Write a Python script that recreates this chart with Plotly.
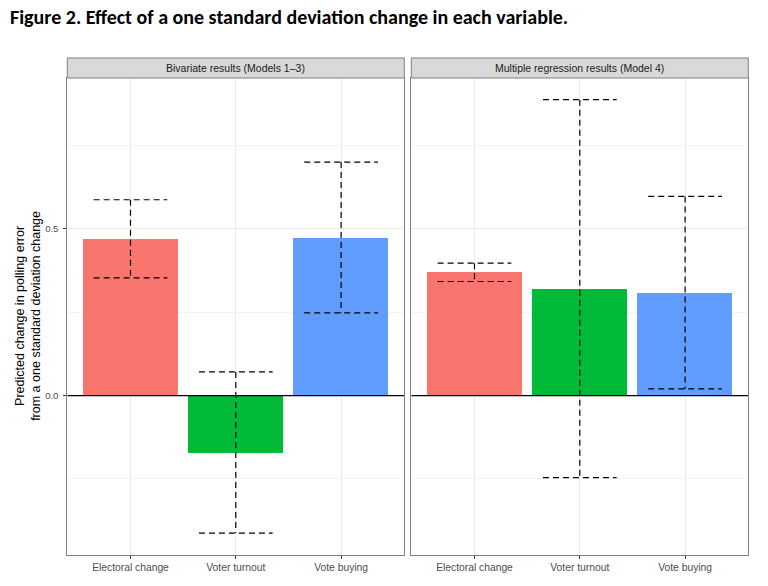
import plotly.graph_objects as go

# ---- data ----
categories = ["Electoral change", "Voter turnout", "Vote buying"]
bar_colors = ["#F8766D", "#00BA38", "#619CFF"]

bivariate_est = [0.470, -0.172, 0.472]
bivariate_lo = [0.353, -0.412, 0.248]
bivariate_hi = [0.587, 0.071, 0.700]

multiple_est = [0.369, 0.320, 0.309]
multiple_lo = [0.342, -0.246, 0.020]
multiple_hi = [0.397, 0.887, 0.597]

panel_titles = ["Bivariate results (Models 1\u20133)", "Multiple regression results (Model 4)"]
title_text = "Figure 2. Effect of a one standard deviation change in each variable."
y_title = "Predicted change in polling error<br>from a one standard deviation change"
y_tickvals = [0.0, 0.5]
y_ticktext = ["0.0", "0.5"]
y_minor = [-0.25, 0.25, 0.75]

W, H = 768, 586
AX_FONT = "Liberation Sans, Arial, sans-serif"

# panel geometry in pixels
panels_x = [(67.3, 404.3), (411.3, 748.3)]
plot_top, plot_bot = 78.0, 554.7
strip_top = 58.0

all_lo = bivariate_lo + multiple_lo
all_hi = bivariate_hi + multiple_hi
dmin, dmax = min(all_lo), max(all_hi)
pad = 0.05 * (dmax - dmin)
y_range = [dmin - pad, dmax + pad]
x_range = [-0.6, len(categories) - 0.4]
xpos = list(range(len(categories)))
cap_half = 0.35

fig = go.Figure()

sets = [(bivariate_est, bivariate_lo, bivariate_hi), (multiple_est, multiple_lo, multiple_hi)]
for i, (est, lo, hi) in enumerate(sets):
    xa = "x" if i == 0 else "x2"
    ya = "y" if i == 0 else "y2"
    fig.add_trace(go.Bar(
        x=xpos, y=est, width=0.9, marker=dict(color=bar_colors, line=dict(width=0)),
        xaxis=xa, yaxis=ya, showlegend=False, hoverinfo="skip"))
    # zero reference line
    fig.add_trace(go.Scatter(
        x=x_range, y=[0, 0], mode="lines", line=dict(color="#000000", width=1.1),
        xaxis=xa, yaxis=ya, showlegend=False, hoverinfo="skip"))
    ex, ey = [], []
    for xp, l, h in zip(xpos, lo, hi):
        ex += [xp - cap_half, xp + cap_half, None, xp, xp, None, xp - cap_half, xp + cap_half, None]
        ey += [h, h, None, h, l, None, l, l, None]
    fig.add_trace(go.Scatter(
        x=ex, y=ey, mode="lines", line=dict(color="#000000", width=1.2, dash="6px,4px"),
        xaxis=xa, yaxis=ya, showlegend=False, hoverinfo="skip", connectgaps=False))

ydom = [1 - plot_bot / H, 1 - plot_top / H]
border = "#7F7F7F"
grid = "#EBEBEB"

for i, (x0, x1) in enumerate(panels_x):
    xkey = "xaxis" if i == 0 else "xaxis2"
    ykey = "yaxis" if i == 0 else "yaxis2"
    fig.layout[xkey] = dict(
        domain=[x0 / W, x1 / W], range=x_range, tickvals=xpos, ticktext=categories,
        ticks="outside", ticklen=3, tickcolor="#333333", tickwidth=1,
        showgrid=True, gridcolor=grid, gridwidth=1,
        showline=True, mirror=True, linecolor=border, linewidth=1,
        zeroline=False, anchor="y" if i == 0 else "y2",
        tickfont=dict(family=AX_FONT, size=10.3, color="#4D4D4D"), fixedrange=True)
    fig.layout[ykey] = dict(
        domain=ydom, range=y_range, tickvals=y_tickvals, ticktext=y_ticktext,
        ticks="outside" if i == 0 else "", ticklen=3, tickcolor="#333333",
        showticklabels=(i == 0), showgrid=True, gridcolor=grid, gridwidth=1,
        minor=dict(tickvals=y_minor, showgrid=True, gridcolor="#F3F3F3", gridwidth=1, ticks=""),
        showline=True, mirror=True, linecolor=border, linewidth=1,
        zeroline=False, anchor="x" if i == 0 else "x2",
        tickfont=dict(family=AX_FONT, size=9.5, color="#4D4D4D"),
        ticklabelstandoff=3, fixedrange=True)
    # facet strip
    fig.add_shape(type="rect", xref="paper", yref="paper",
                  x0=x0 / W, x1=x1 / W, y0=1 - plot_top / H, y1=1 - strip_top / H,
                  fillcolor="#D9D9D9", line=dict(color=border, width=1), layer="above")
    fig.add_annotation(xref="paper", yref="paper", x=(x0 + x1) / 2 / W,
                       y=1 - (strip_top + plot_top) / 2 / H, text=panel_titles[i],
                       showarrow=False, xanchor="center", yanchor="middle",
                       font=dict(family=AX_FONT, size=10.5, color="#1A1A1A"))

fig.add_annotation(xref="paper", yref="paper", x=28.5 / W, y=1 - (plot_top + plot_bot) / 2 / H,
                   text=y_title, textangle=-90, showarrow=False,
                   xanchor="center", yanchor="middle",
                   font=dict(family=AX_FONT, size=12.5, color="#000000"))

fig.add_annotation(xref="paper", yref="paper", x=8 / W, y=1 - 16.5 / H,
                   text="<b>" + title_text + "</b>", showarrow=False,
                   xanchor="left", yanchor="middle",
                   font=dict(family="Carlito, Lato, sans-serif", size=20, color="#000000"))

fig.update_layout(width=W, height=H, margin=dict(l=0, r=0, t=0, b=0),
                  paper_bgcolor="white", plot_bgcolor="white", bargap=0,
                  showlegend=False)

fig.write_html("out.html", config={"displayModeBar": False},
               post_script="document.body.style.margin='0px';")
